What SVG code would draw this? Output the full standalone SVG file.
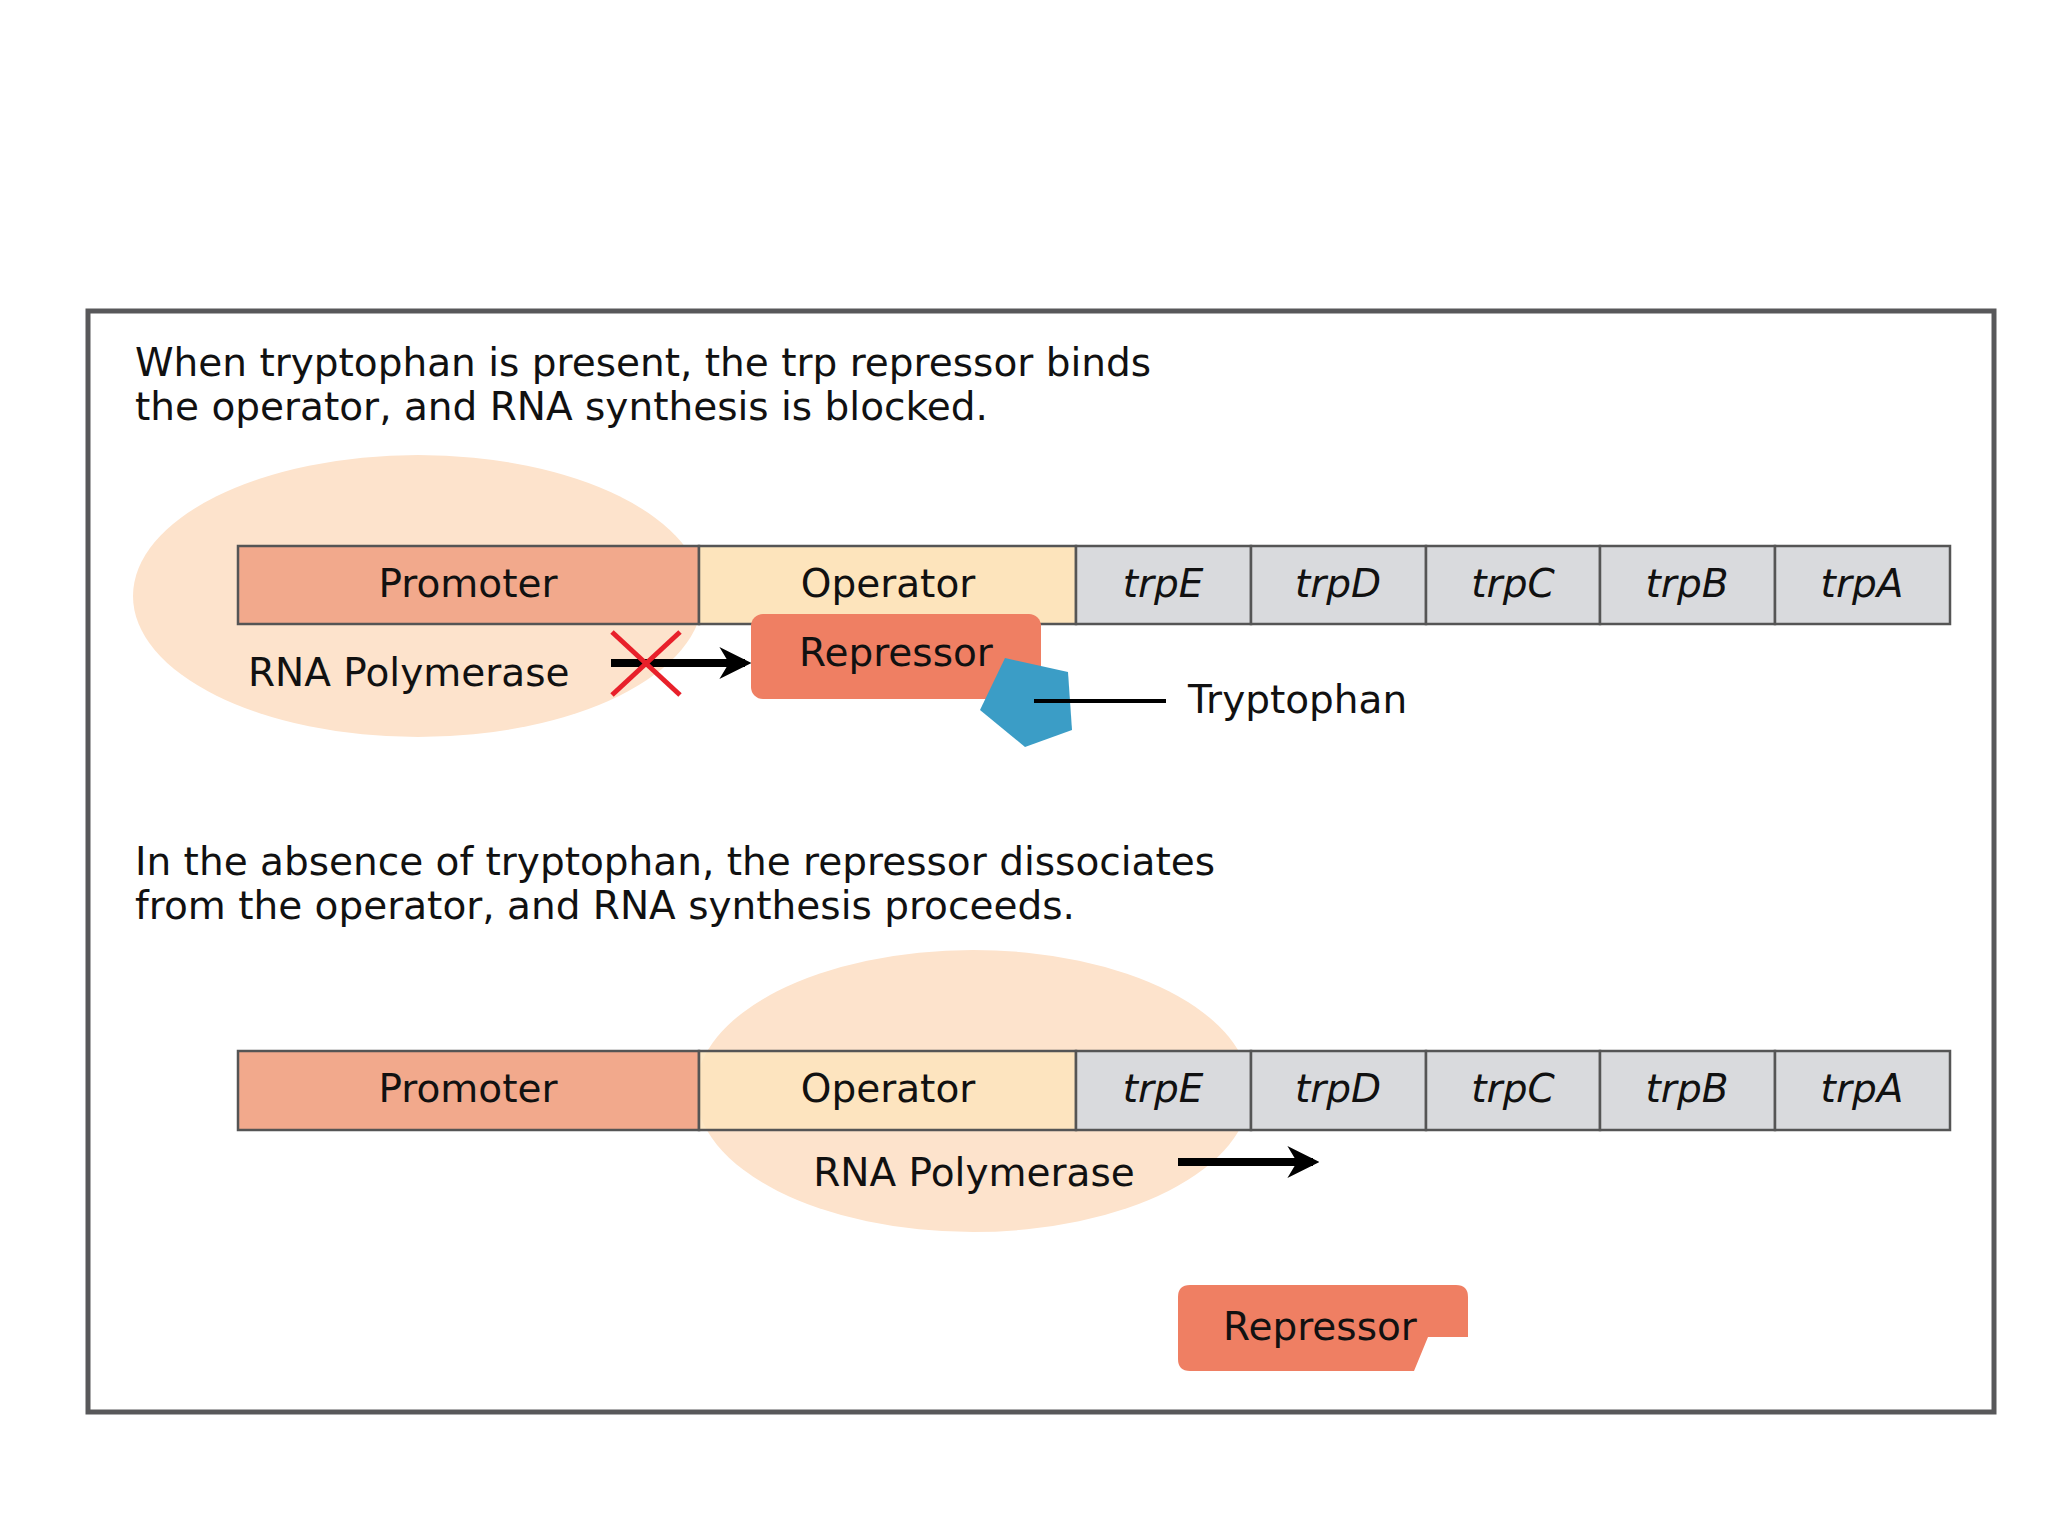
<svg xmlns="http://www.w3.org/2000/svg" width="2048" height="1536" viewBox="0 0 2048 1536">
<defs>
<style>
text{font-family:"DejaVu Sans","Liberation Sans",Arial,sans-serif;fill:#111}
.cap{font-size:39px}
.lbl{font-size:39px;text-anchor:middle}
.it{font-style:italic}
.box{stroke:#555;stroke-width:2.5}
.pro{fill:#f2a98c}.op{fill:#fde4bc}.gene{fill:#d9dadd}
.ell{fill:#fde3cc}
.rep{fill:#ef7f63}
</style>
<marker id="ah" viewBox="0 0 10 10" refX="8" refY="5" markerWidth="4" markerHeight="4" orient="auto"><path d="M0,0 L10,5 L0,10 L3,5 Z" fill="#000"/></marker>
</defs>
<rect width="2048" height="1536" fill="#fff"/>
<rect x="88" y="311" width="1906" height="1101" fill="#fff" stroke="#58585a" stroke-width="5"/>
<text class="cap" x="135" y="376">When tryptophan is present, the trp repressor binds</text>
<text class="cap" x="135" y="420">the operator, and RNA synthesis is blocked.</text>
<g id="polymerase1"><ellipse class="ell" cx="418" cy="596" rx="285" ry="141"/></g>
<g id="operon1">
<rect class="box pro" x="238" y="546" width="461" height="78"/>
<rect class="box op" x="699" y="546" width="377" height="78"/>
<rect class="box gene" x="1076" y="546" width="175" height="78"/>
<rect class="box gene" x="1251" y="546" width="175" height="78"/>
<rect class="box gene" x="1426" y="546" width="174" height="78"/>
<rect class="box gene" x="1600" y="546" width="175" height="78"/>
<rect class="box gene" x="1775" y="546" width="175" height="78"/>
<text class="lbl" x="468" y="597">Promoter</text>
<text class="lbl" x="888" y="597">Operator</text>
<text class="lbl it" x="1163" y="597">trpE</text>
<text class="lbl it" x="1338" y="597">trpD</text>
<text class="lbl it" x="1513" y="597">trpC</text>
<text class="lbl it" x="1687" y="597">trpB</text>
<text class="lbl it" x="1862" y="597">trpA</text>
</g>
<text class="cap" x="248" y="686">RNA Polymerase</text>
<g id="repressor1">
<rect class="rep" x="751" y="614" width="290" height="85" rx="12"/>
<text class="lbl" x="896" y="666">Repressor</text>
</g>
<g id="tryptophan">
<polygon fill="#3b9dc6" points="1005,658 1068,672 1072,730 1025,747 980,710"/>
<text class="cap" x="1188" y="713">Tryptophan</text>
</g>
<text class="cap" x="135" y="875">In the absence of tryptophan, the repressor dissociates</text>
<text class="cap" x="135" y="919">from the operator, and RNA synthesis proceeds.</text>
<g id="polymerase2"><ellipse class="ell" cx="973" cy="1091" rx="277" ry="141"/></g>
<g id="operon2">
<rect class="box pro" x="238" y="1051" width="461" height="79"/>
<rect class="box op" x="699" y="1051" width="377" height="79" fill-opacity="0.85"/>
<rect class="box gene" x="1076" y="1051" width="175" height="79"/>
<rect class="box gene" x="1251" y="1051" width="175" height="79"/>
<rect class="box gene" x="1426" y="1051" width="174" height="79"/>
<rect class="box gene" x="1600" y="1051" width="175" height="79"/>
<rect class="box gene" x="1775" y="1051" width="175" height="79"/>
<text class="lbl" x="468" y="1102">Promoter</text>
<text class="lbl" x="888" y="1102">Operator</text>
<text class="lbl it" x="1163" y="1102">trpE</text>
<text class="lbl it" x="1338" y="1102">trpD</text>
<text class="lbl it" x="1513" y="1102">trpC</text>
<text class="lbl it" x="1687" y="1102">trpB</text>
<text class="lbl it" x="1862" y="1102">trpA</text>
</g>
<text class="lbl" x="974" y="1186">RNA Polymerase</text>
<g id="repressor2">
<path class="rep" d="M1190,1285 H1456 Q1468,1285 1468,1297 V1337 H1428 L1414,1371 H1190 Q1178,1371 1178,1359 V1297 Q1178,1285 1190,1285 Z"/>
<text class="lbl" x="1320" y="1340">Repressor</text>
</g>
<g id="connectors">
<line x1="611" y1="663" x2="745" y2="663" stroke="#000" stroke-width="8" marker-end="url(#ah)"/>
<line x1="612" y1="632" x2="680" y2="695" stroke="#e8202a" stroke-width="5"/>
<line x1="680" y1="632" x2="612" y2="695" stroke="#e8202a" stroke-width="5"/>
<line x1="1034" y1="701" x2="1166" y2="701" stroke="#000" stroke-width="4"/>
<line x1="1178" y1="1162" x2="1313" y2="1162" stroke="#000" stroke-width="8" marker-end="url(#ah)"/>
</g>
</svg>
